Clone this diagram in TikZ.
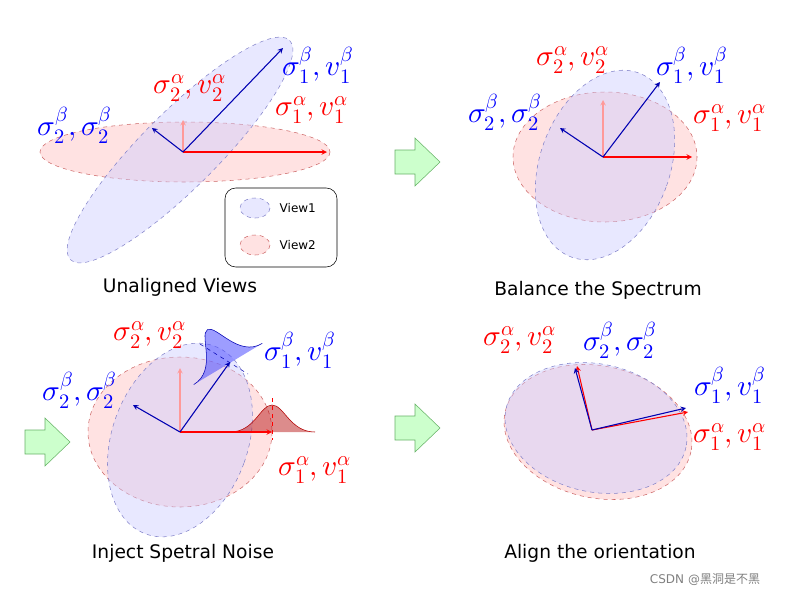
\documentclass[tikz,border=0pt]{standalone}
\usepackage{fontspec}
\setmainfont{DejaVu Sans}
\newfontfamily\cjk{Noto Sans CJK SC}
\usepackage{unicode-math}
\setmathfont{Latin Modern Math}
\begin{document}
\begin{tikzpicture}[x=0.75pt,y=-0.75pt,
  v1/.style={draw=blue!40!gray!70,dashed,fill=blue!20,fill opacity=0.45},
  v2/.style={draw=red!50!gray!80,dashed,fill=red!25,fill opacity=0.45},
  ba/.style={->,>=stealth,blue!70!black,thick},
  ra/.style={->,>=stealth,red,thick},
  pa/.style={->,>=stealth,red!40,thick},
  bl/.style={blue,font=\fontsize{22}{24}\selectfont},
  rl/.style={red,font=\fontsize{22}{24}\selectfont},
  ttl/.style={font=\fontsize{14}{16}\selectfont},
  garr/.style={draw=green!50!black!60,fill=green!20}]
\useasboundingbox (0,0) rectangle (806,600);
% panel 1
\draw[v2] (185,152) ellipse [x radius=145,y radius=30];
\draw[v1,rotate around={45:(180,150)}] (180,150) ellipse [x radius=155,y radius=38];
\coordinate (o1) at (183,152);
\coordinate (a1) at (327,152); \coordinate (b1) at (183,120);
\coordinate (c1) at (283,48); \coordinate (d1) at (152,128);
\draw[ra] (o1) -- (a1); \draw[pa] (o1) -- (b1);
\draw[ba] (o1) -- (c1); \draw[ba] (o1) -- (d1);
\node[bl] (l11) at (318,65) {$\sigma_1^\beta,v_1^\beta$};
\node[rl] (l12) at (190,88) {$\sigma_2^\alpha,v_2^\alpha$};
\node[rl] (l13) at (312,110) {$\sigma_1^\alpha,v_1^\alpha$};
\node[bl] (l14) at (75,125) {$\sigma_2^\beta,\sigma_2^\beta$};
\draw[rounded corners=8pt,fill=white] (225,188) rectangle (337,267);
\draw[v1] (255,208) ellipse [x radius=15,y radius=10];
\draw[v2] (255,245) ellipse [x radius=15,y radius=10];
\node[anchor=west,font=\small] (lg1) at (275,208) {View1};
\node[anchor=west,font=\small] (lg2) at (275,245) {View2};
\node[ttl] (t1) at (180,287) {Unaligned Views};
% panel 2
\draw[v2] (605,157) ellipse [x radius=92,y radius=65];
\draw[v1,rotate around={-20:(605,165)}] (605,165) ellipse [x radius=65,y radius=98];
\coordinate (o2) at (603,157);
\draw[ra] (o2) -- (692,157); \draw[pa] (o2) -- (603,100);
\draw[ba] (o2) -- (660,82); \draw[ba] (o2) -- (560,128);
\node[rl] (l21) at (573,60) {$\sigma_2^\alpha,v_2^\alpha$};
\node[bl] (l22) at (692,65) {$\sigma_1^\beta,v_1^\beta$};
\node[bl] (l23) at (505,112) {$\sigma_2^\beta,\sigma_2^\beta$};
\node[rl] (l24) at (730,118) {$\sigma_1^\alpha,v_1^\alpha$};
\node[ttl] (t2) at (598,290) {Balance the Spectrum};
% panel 3
\draw[v2] (180,432) ellipse [x radius=92,y radius=75];
\draw[v1,rotate around={-20:(180,440)}] (180,440) ellipse [x radius=68,y radius=100];
\coordinate (o3) at (180,432);
\fill[red!70!black,opacity=0.45] (230,432) .. controls (255,432) and (260,405) .. (272,405) .. controls (284,405) and (290,432) .. (315,432) -- cycle;
\draw[red!70!black,thin] (230,432) .. controls (255,432) and (260,405) .. (272,405) .. controls (284,405) and (290,432) .. (315,432);
\draw[red,dashed] (272,398) -- (272,440);
\begin{scope}[shift={(228,364)},rotate=31]
\fill[blue!70,opacity=0.55] (-40,0) .. controls (-12,0) and (-10,-40) .. (0,-40) .. controls (10,-40) and (12,0) .. (40,0) -- cycle;
\draw[blue!70!black,thin] (-40,0) .. controls (-12,0) and (-10,-40) .. (0,-40) .. controls (10,-40) and (12,0) .. (40,0);
\end{scope}
\draw[blue!70!black,dashed] (200,344) -- (248,374);
\draw[ra] (o3) -- (272,432); \draw[pa] (o3) -- (180,368);
\draw[ba] (o3) -- (230,362); \draw[ba] (o3) -- (133,405);
\node[rl] (l31) at (150,335) {$\sigma_2^\alpha,v_2^\alpha$};
\node[bl] (l32) at (300,350) {$\sigma_1^\beta,v_1^\beta$};
\node[bl] (l33) at (80,390) {$\sigma_2^\beta,\sigma_2^\beta$};
\node[rl] (l34) at (315,470) {$\sigma_1^\alpha,v_1^\alpha$};
\node[ttl] (t3) at (183,553) {Inject Spetral Noise};
% panel 4
\draw[v2,rotate around={-12:(598,432)}] (598,432) ellipse [x radius=95,y radius=66];
\draw[v1,rotate around={-12:(596,428)}] (596,428) ellipse [x radius=92,y radius=64];
\coordinate (o4) at (592,430);
\draw[ra] (o4) -- (688,412); \draw[ra] (o4) -- (577,366);
\draw[ba] (o4) -- (686,408); \draw[ba] (o4) -- (575,368);
\node[rl] (l41) at (520,340) {$\sigma_2^\alpha,v_2^\alpha$};
\node[bl] (l42) at (620,340) {$\sigma_2^\beta,\sigma_2^\beta$};
\node[bl] (l43) at (730,385) {$\sigma_1^\beta,v_1^\beta$};
\node[rl] (l44) at (730,437) {$\sigma_1^\alpha,v_1^\alpha$};
\node[ttl] (t4) at (600,553) {Align the orientation};
% green arrows
\foreach \x/\y in {395/162,395/428,25/442}
  \draw[garr] (\x,\y-12) -- (\x+20,\y-12) -- (\x+20,\y-24) -- (\x+45,\y) -- (\x+20,\y+24) -- (\x+20,\y+12) -- (\x,\y+12) -- cycle;
\node[gray,font=\small] (wm) at (705,580) {CSDN @{\cjk 黑洞是不黑}};
\end{tikzpicture}
\end{document}
